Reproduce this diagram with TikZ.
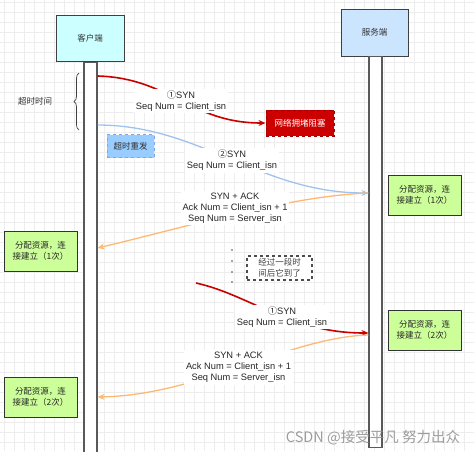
\documentclass[tikz,border=0pt]{standalone}
\usepackage{fontspec}
\setmainfont{Liberation Sans}
\newfontfamily\cjk{Noto Sans CJK SC}
\usetikzlibrary{arrows.meta,decorations.pathreplacing}
\definecolor{clientfill}{HTML}{CCFFFF}
\definecolor{serverfill}{HTML}{CCE5FF}
\definecolor{greenfill}{HTML}{CCFF99}
\definecolor{redfill}{HTML}{CC0000}
\definecolor{redline}{HTML}{C80000}
\definecolor{blueline}{HTML}{9DC3EE}
\definecolor{bluefill}{HTML}{99CCFF}
\definecolor{blueborder}{HTML}{7EA6E0}
\definecolor{orangeline}{HTML}{FFB870}
\definecolor{gridcol}{HTML}{EDEDED}
\begin{document}
\begin{tikzpicture}[x=1pt,y=-1pt,
  cjkfont/.style={font=\cjk\fontsize{8.5}{11}\selectfont},
  hostbox/.style={draw=black!75, line width=0.8pt, inner sep=0pt, cjkfont, text=black!80},
  lifeline/.style={draw=black!65, line width=1.1pt, fill=white, inner sep=0pt, minimum width=13pt},
  greenbox/.style={draw=black!80, line width=0.9pt, fill=greenfill, minimum width=73pt, minimum height=40pt, inner sep=0pt, align=center, cjkfont, text=black!85},
  msglabel/.style={fill=white, inner sep=2pt, align=center, font=\fontsize{9.3}{11}\selectfont, text=black!85},
  redmsg/.style={draw=redline, line width=1.6pt},
  bluemsg/.style={draw=blueline, line width=1.3pt},
  orangemsg/.style={draw=orangeline, line width=1.3pt},
  tip/.style={-{Stealth[length=7pt,width=6pt]}}
]
\useasboundingbox (0,0) rectangle (474,451);
\clip (0,0) rectangle (474,451);
% grid
\foreach \gx in {4,14,...,474} \draw[gridcol, line width=0.4pt] (\gx,0) -- (\gx,451);
\foreach \gy in {2,12,...,451} \draw[gridcol, line width=0.4pt] (0,\gy) -- (474,\gy);

% hosts
\node[hostbox, fill=clientfill, minimum width=68pt, minimum height=46pt] (client) at (90,38) {客户端};
\node[hostbox, fill=serverfill, minimum width=67pt, minimum height=47pt] (server) at (374.5,32.5) {服务端};
\node[lifeline, minimum height=400pt, anchor=north] (cline) at (90.5,61.5) {};
\node[lifeline, minimum height=391pt, anchor=north] (sline) at (375.5,56) {};

% brace
\draw[decorate, decoration={brace, amplitude=5pt}, line width=0.7pt, black!75] (79,130) -- (79,73);
\node[cjkfont, text=black!80] (timeout) at (35,101) {超时时间};

% boxes
\node[draw=redline!80!black, dashed, line width=1pt, fill=redfill, minimum width=68pt, minimum height=26pt, inner sep=0pt, cjkfont, text=white] (blk) at (300,123) {网络拥堵阻塞};
\node[draw=blueborder, dashed, line width=0.8pt, fill=bluefill, minimum width=47pt, minimum height=23pt, inner sep=0pt, cjkfont, text=black!80] (retry) at (130.5,146) {超时重发};
\node[draw=black!70, dashed, line width=1.2pt, fill=white, minimum width=65pt, minimum height=24pt, inner sep=0pt, align=center, cjkfont, text=black!75] (later) at (279.5,268) {经过一段时\\间后它到了};

\node[greenbox] (g1r) at (424.5,195) {分配资源，连\\接建立（1次）};
\node[greenbox] (g1l) at (40.5,251) {分配资源，连\\接建立（1次）};
\node[greenbox] (g2r) at (424.5,330) {分配资源，连\\接建立（2次）};
\node[greenbox] (g2l) at (40.5,397) {分配资源，连\\接建立（2次）};

% dots
\foreach \dy in {250,261,272,282} \fill[black!70] (232,\dy) circle (0.9pt);

% message endpoints
\coordinate (c1) at (cline.east |- 0,76);
\coordinate (c2) at (cline.east |- 0,125);
\coordinate (c3) at (cline.east |- 0,248);
\coordinate (c4) at (cline.east |- 0,397);
\coordinate (s1) at (sline.west |- 0,193);
\coordinate (s2) at (sline.west |- 0,333);
\coordinate (s3) at (sline.west |- 0,335);
\coordinate (r2) at (196,283);

% messages
\draw[redmsg, tip] (c1) .. controls (170,78) and (190,123) .. (blk.west);
\draw[bluemsg, tip] (c2) .. controls (200,125) and (260,193) .. (s1);
\draw[orangemsg, tip] (s1) .. controls (290,196) and (190,226) .. (c3);
\draw[redmsg, tip] (r2) .. controls (250,295) and (290,333) .. (s2);
\draw[orangemsg, tip] (s3) .. controls (290,337) and (200,395) .. (c4);

% labels
\node[msglabel] (m1) at (181,101) {{\cjk ①}SYN\\Seq Num = Client\_isn};
\node[msglabel] (m2) at (232,160.5) {{\cjk ②}SYN\\Seq Num = Client\_isn};
\node[msglabel] (m3) at (235,208) {SYN + ACK\\Ack Num = Client\_isn + 1\\Seq Num = Server\_isn};
\node[msglabel] (m4) at (282,317) {{\cjk ①}SYN\\Seq Num = Client\_isn};
\node[msglabel] (m5) at (238.5,367.5) {SYN + ACK\\Ack Num = Client\_isn + 1\\Seq Num = Server\_isn};

% watermark
\node[font=\cjk\fontsize{14.5}{16}\selectfont, text=black!45, opacity=0.85] (wm) at (373,438) {CSDN @接受平凡 努力出众};
\end{tikzpicture}
\end{document}
